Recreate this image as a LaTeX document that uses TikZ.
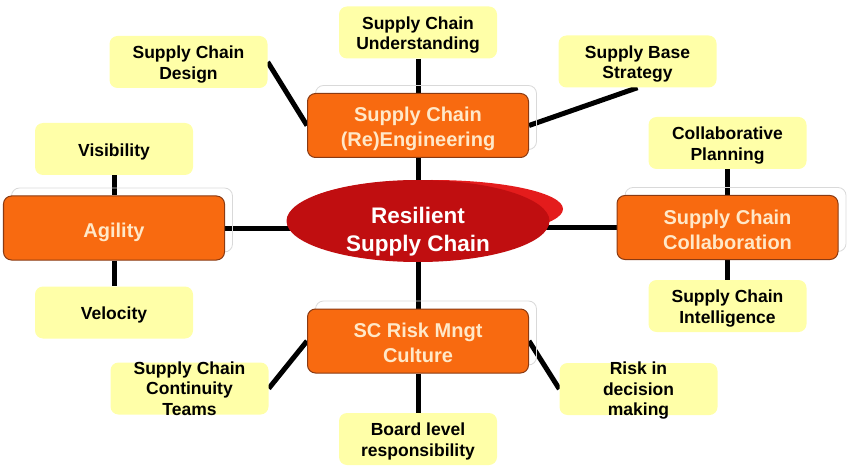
\documentclass[tikz,border=0pt]{standalone}
\usepackage{fontspec}
\setmainfont{Liberation Sans}
\usetikzlibrary{shadows,backgrounds}
\definecolor{leafyellow}{HTML}{FFFFA8}
\definecolor{huborange}{HTML}{F86A10}
\definecolor{hubedge}{HTML}{8A3A12}
\definecolor{hubtext}{HTML}{FFE8C8}
\definecolor{corered}{HTML}{C00E10}
\definecolor{coreback}{HTML}{E41C1C}
% centred lines, text lowered a little inside its box
\newcommand{\lines}[2][3pt]{\raisebox{-#1}[\height][\depth]{\begin{tabular}{@{}c@{}}#2\end{tabular}}}
\tikzset{
  leaf/.style={fill=leafyellow, rounded corners=8pt, minimum width=158pt, minimum height=52pt,
    inner sep=0pt, font=\fontsize{17.5}{20.5}\selectfont\bfseries},
  hub/.style={fill=huborange, draw=hubedge, line width=1pt, rounded corners=8pt,
    minimum width=221pt, minimum height=64pt, inner sep=0pt,
    text=hubtext, font=\fontsize{20}{25}\selectfont\bfseries,
    copy shadow={shadow xshift=8pt, shadow yshift=8pt, fill=none, draw=gray!30, line width=0.8pt}},
  core/.style={ellipse, fill=corered, minimum width=263pt, minimum height=82pt, inner sep=0pt},
  coretext/.style={align=center, text=white, font=\fontsize{22.5}{28}\selectfont\bfseries},
  link/.style={line width=5pt}
}
\usetikzlibrary{shapes.geometric}
\begin{document}
\begin{tikzpicture}[x=10pt,y=-10pt]
\useasboundingbox (0,0) rectangle (85,47);
% top
\node[leaf] (und) at (41.8,3.25) {\lines{Supply Chain\\Understanding}};
\node[leaf] (design) at (18.85,6.2) {\lines{Supply Chain\\Design}};
\node[leaf] (base) at (63.75,6.15) {\lines{Supply Base\\Strategy}};
\node[hub] (eng) at (41.8,12.55) {\lines[4pt]{Supply Chain\\(Re)Engineering}};
% left
\node[leaf] (vis) at (11.4,14.9) {\lines{Visibility}};
\node[hub] (agil) at (11.4,22.8) {\lines[4pt]{Agility}};
\node[leaf] (vel) at (11.4,31.25) {\lines{Velocity}};
% right
\node[leaf] (plan) at (72.75,14.3) {\lines{Collaborative\\Planning}};
\node[hub] (collab) at (72.75,22.75) {\lines[4pt]{Supply Chain\\Collaboration}};
\node[leaf] (intel) at (72.75,30.6) {\lines{Supply Chain\\Intelligence}};
% bottom
\node[hub] (risk) at (41.8,34.1) {\lines[4pt]{SC Risk Mngt\\Culture}};
\node[leaf, inner ysep=-5pt] (cont) at (18.95,38.85) {\lines[2pt]{Supply Chain\\Continuity\\Teams}};
\node[leaf] (board) at (41.8,43.9) {\lines{Board level\\responsibility}};
\node[leaf, inner ysep=-5pt] (dec) at (63.85,38.9) {\lines[2pt]{Risk in\\decision\\making}};
% centre disc
\fill[coreback] (43.2,20.9) ellipse (13.1 and 2.9);
\node[core] (core) at (41.8,22.1) {};
\node[coretext] (corelabel) at (41.8,23.2) {Resilient\\Supply Chain};
\begin{scope}[on background layer]
\draw[link] (und) -- (eng);
\draw[link] (design.east) -- (eng.west);
\draw[link] (base.south) -- (eng.east);
\draw[link] (eng) -- (core);
\draw[link] (vis) -- (agil);
\draw[link] (agil) -- (vel);
\draw[link] (agil) -- (agil -| core);
\draw[link] (plan) -- (collab);
\draw[link] (collab) -- (intel);
\draw[link] (collab) -- (collab -| core);
\draw[link] (core) -- (risk);
\draw[link] (risk) -- (board);
\draw[link] (risk.west) -- (cont.east);
\draw[link] (risk.east) -- (dec.west);
\end{scope}
\end{tikzpicture}
\end{document}
